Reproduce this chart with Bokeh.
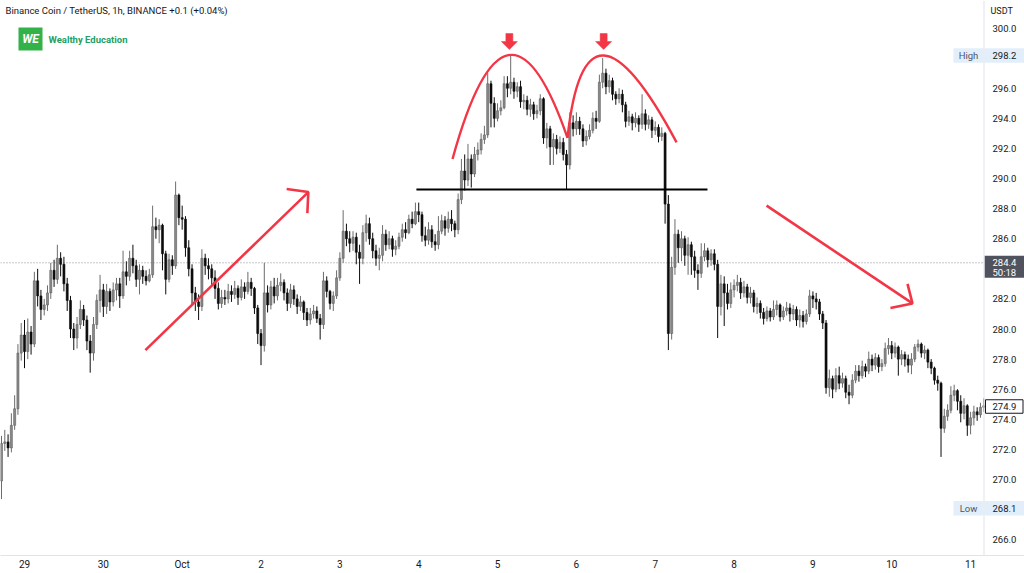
from bokeh.plotting import figure
from bokeh.models import Label, Span, FixedTicker, Range1d
from bokeh.embed import file_html
from bokeh.resources import INLINE
from bokeh.core.properties import value

# ---------------- data (1h candles, hour 0 = Sep 29 00:00) ----------------
first_open = 269.9
close_sep28 = [272.4, 272.5, 272.1, 273.6, 274.7, 278.4, 279.6]
high_sep28 = [272.9, 273.3, 273.0, 274.4, 275.6, 279.0, 280.4]
low_sep28 = [268.7, 271.9, 271.5, 271.8, 273.3, 274.3, 277.9]

close_sep29 = [278.5, 279.8, 279.0, 283.2, 282.2, 281.3, 281.6, 282.4, 283.9, 283.3, 284.7, 284.3,
               283.0, 281.9, 280.0, 279.4, 280.3, 281.3, 280.6, 279.2, 278.4, 280.3, 281.9, 282.6]
high_sep29 = [280.6, 280.7, 280.2, 283.8, 284.0, 282.6, 282.0, 282.9, 284.4, 284.6, 285.6, 285.1,
              284.8, 283.4, 282.2, 280.4, 280.8, 281.9, 281.6, 280.9, 279.6, 280.8, 282.3, 283.6]
low_sep29 = [277.4, 278.0, 278.3, 278.8, 281.5, 280.6, 280.9, 281.2, 282.0, 282.8, 283.0, 283.5,
             282.5, 281.2, 279.4, 278.6, 278.7, 280.0, 280.2, 278.6, 277.1, 277.9, 280.0, 281.1]

close_sep30 = [281.5, 282.5, 281.8, 282.6, 283.0, 282.2, 283.8, 283.5, 284.7, 284.2, 283.3, 283.9,
               283.5, 283.2, 283.6, 286.8, 286.6, 286.9, 285.0, 283.3, 284.6, 284.2, 288.9, 287.4]
high_sep30 = [283.0, 283.0, 282.7, 283.1, 283.4, 283.4, 285.2, 284.5, 285.2, 285.6, 284.6, 284.3,
              284.2, 283.9, 284.0, 288.2, 287.4, 287.3, 287.0, 285.2, 285.0, 284.9, 289.8, 289.0]
low_sep30 = [280.8, 281.0, 281.2, 281.5, 281.9, 281.4, 282.0, 282.9, 283.2, 283.7, 282.8, 282.3,
             283.0, 282.9, 283.1, 283.4, 286.0, 285.7, 283.9, 282.3, 283.1, 283.6, 284.0, 286.9]

close_oct1 = [287.3, 285.4, 284.0, 282.4, 281.8, 281.5, 284.7, 284.2, 284.0, 283.4, 282.7, 281.7,
              282.1, 282.0, 282.5, 282.3, 282.7, 282.1, 282.8, 282.5, 283.1, 282.7, 281.4, 279.7]
high_oct1 = [288.2, 287.5, 285.9, 284.3, 282.8, 282.3, 285.3, 285.0, 284.7, 284.3, 283.9, 283.1,
             282.6, 282.6, 283.0, 282.9, 283.2, 282.9, 283.3, 283.1, 283.8, 283.4, 282.8, 281.6]
low_oct1 = [286.6, 284.8, 283.5, 281.6, 281.2, 280.6, 281.2, 283.6, 283.3, 282.9, 282.0, 281.3,
            281.4, 281.6, 281.7, 281.8, 282.0, 281.6, 281.9, 282.0, 282.3, 282.2, 281.0, 279.0]

close_oct2 = [278.9, 282.4, 281.6, 282.8, 282.2, 282.9, 283.1, 282.4, 281.7, 282.6, 282.0, 281.5,
              281.8, 281.1, 280.6, 281.0, 281.2, 280.7, 280.3, 283.2, 282.5, 281.7, 282.2, 283.4]
high_oct2 = [280.0, 284.4, 282.9, 283.2, 283.4, 283.4, 283.7, 283.3, 282.7, 283.0, 282.9, 282.3,
             282.2, 281.9, 281.4, 281.4, 281.6, 281.5, 281.0, 283.8, 283.5, 282.6, 282.5, 283.9]
low_oct2 = [277.6, 278.5, 281.1, 281.3, 281.7, 281.9, 282.5, 281.9, 281.2, 281.4, 281.6, 281.0,
            281.2, 280.6, 280.2, 280.3, 280.7, 280.4, 279.3, 280.0, 282.1, 281.3, 281.2, 282.0]

close_oct3 = [284.7, 286.5, 286.0, 285.7, 286.1, 285.1, 284.7, 286.4, 287.0, 286.0, 285.2, 284.7,
              284.9, 286.3, 285.6, 286.0, 285.3, 285.5, 286.1, 286.6, 286.4, 287.3, 287.0, 287.8]
high_oct3 = [285.1, 287.9, 287.0, 286.5, 286.5, 286.4, 285.6, 286.9, 287.6, 287.4, 286.4, 285.6,
             285.4, 286.9, 286.6, 286.5, 286.2, 285.9, 286.4, 287.0, 287.1, 287.6, 287.8, 288.4]
low_oct3 = [283.2, 284.4, 285.5, 285.1, 285.2, 284.3, 283.0, 284.3, 285.8, 285.6, 284.7, 284.2,
            283.9, 284.5, 285.2, 285.3, 284.8, 284.9, 285.3, 285.8, 286.0, 286.3, 286.7, 286.9]

close_oct4 = [287.6, 286.2, 285.9, 286.6, 285.8, 285.6, 286.5, 287.2, 286.7, 287.3, 287.0, 286.6,
              288.6, 290.5, 289.9, 291.3, 290.3, 291.6, 291.9, 292.6, 292.9, 296.3, 295.0, 294.0]
high_oct4 = [288.4, 287.8, 286.8, 287.1, 286.9, 286.3, 287.5, 287.6, 287.5, 287.8, 287.9, 287.2,
             289.0, 291.3, 291.6, 292.3, 291.6, 292.1, 292.4, 293.0, 293.5, 297.0, 296.5, 295.4]
low_oct4 = [287.1, 285.8, 285.5, 285.6, 285.4, 285.2, 285.3, 286.3, 286.2, 286.4, 286.5, 286.1,
            286.3, 288.3, 289.2, 289.5, 289.4, 290.1, 291.2, 291.6, 292.3, 292.7, 293.4, 293.4]

close_oct5 = [294.5, 294.7, 296.3, 296.0, 296.4, 295.8, 296.1, 295.1, 295.2, 294.6, 294.9, 294.3,
              294.5, 295.3, 292.7, 293.3, 292.1, 292.6, 292.0, 292.4, 291.6, 290.9, 293.7, 293.3]
high_oct5 = [295.0, 295.2, 296.8, 296.8, 298.2, 296.7, 296.4, 296.5, 295.6, 295.5, 295.3, 295.1,
             294.9, 295.6, 295.4, 293.7, 293.5, 293.0, 292.9, 292.8, 292.7, 291.9, 294.4, 294.2]
low_oct5 = [293.8, 294.2, 294.6, 295.4, 295.6, 295.3, 295.4, 294.7, 294.6, 294.2, 294.1, 293.9,
            294.0, 294.2, 292.3, 292.0, 290.9, 290.9, 291.6, 291.7, 291.2, 289.3, 290.6, 292.8]

close_oct6 = [293.8, 293.3, 292.5, 292.8, 293.2, 294.0, 293.8, 296.4, 297.0, 296.1, 296.5, 295.6,
              295.3, 295.6, 294.9, 293.8, 294.1, 293.7, 294.0, 293.6, 294.3, 293.6, 293.9, 293.2]
high_oct6 = [294.4, 294.1, 293.6, 293.2, 293.6, 294.4, 294.5, 296.9, 298.0, 297.3, 296.9, 296.7,
             295.8, 296.0, 295.9, 295.1, 294.5, 294.3, 294.4, 294.2, 295.6, 294.6, 294.2, 294.1]
low_oct6 = [292.9, 292.9, 292.1, 292.2, 292.6, 293.0, 293.3, 293.7, 296.0, 295.6, 295.7, 295.2,
            294.9, 295.0, 294.4, 293.4, 293.5, 293.2, 293.4, 293.1, 293.3, 293.2, 293.3, 292.7]

close_oct7 = [293.4, 292.8, 293.0, 288.3, 279.7, 284.1, 286.3, 285.4, 286.0, 284.9, 285.6, 284.8,
              283.9, 283.7, 284.8, 285.2, 284.6, 285.0, 284.3, 281.5, 283.0, 282.4, 281.7, 282.6]
high_oct7 = [293.8, 293.6, 293.4, 293.1, 288.9, 284.8, 287.3, 286.6, 286.5, 286.2, 286.1, 285.8,
             285.2, 284.3, 285.7, 285.7, 285.4, 285.3, 285.3, 284.6, 283.6, 283.5, 283.0, 283.1]
low_oct7 = [292.9, 292.4, 292.5, 287.0, 278.6, 279.3, 283.6, 284.4, 284.5, 284.2, 283.6, 283.6,
            283.4, 282.6, 283.4, 284.5, 284.1, 284.2, 283.9, 279.4, 280.9, 280.2, 281.3, 281.4]

close_oct8 = [282.9, 283.1, 282.4, 282.8, 282.1, 282.4, 281.5, 281.7, 281.1, 280.7, 281.2, 280.8,
              281.3, 281.6, 280.8, 281.2, 281.4, 281.0, 281.3, 280.6, 280.9, 280.5, 281.0, 282.2]
high_oct8 = [283.3, 283.6, 283.4, 283.2, 283.0, 282.8, 282.6, 282.1, 281.9, 281.4, 281.5, 281.4,
             281.9, 281.9, 281.7, 281.5, 281.8, 281.7, 281.6, 281.5, 281.3, 281.2, 281.3, 282.6]
low_oct8 = [282.1, 282.5, 282.0, 282.1, 281.7, 281.7, 281.1, 281.0, 280.7, 280.3, 280.5, 280.5,
            280.6, 280.9, 280.5, 280.6, 280.9, 280.5, 280.6, 280.2, 280.1, 280.1, 280.3, 280.8]

close_oct9 = [282.0, 281.8, 281.0, 280.4, 276.1, 276.7, 276.0, 276.9, 276.4, 276.7, 275.8, 275.6,
              276.6, 277.2, 276.9, 277.5, 277.2, 278.0, 277.6, 278.1, 277.5, 277.7, 278.7, 278.9]
high_oct9 = [282.5, 282.4, 282.0, 281.2, 280.6, 277.3, 276.9, 277.4, 277.5, 277.1, 276.9, 276.3,
             277.0, 277.6, 277.6, 277.9, 277.7, 278.5, 278.3, 278.4, 278.3, 278.0, 279.1, 279.4]
low_oct9 = [281.4, 281.3, 280.6, 280.0, 275.7, 275.5, 275.4, 275.8, 276.0, 276.1, 275.4, 275.0,
            275.4, 276.4, 276.5, 276.7, 276.8, 277.0, 277.2, 277.3, 277.1, 277.2, 277.5, 278.3]

close_oct10 = [278.4, 278.8, 278.0, 278.3, 278.0, 277.6, 278.0, 278.8, 279.0, 278.4, 278.6, 277.8,
               277.4, 276.6, 276.4, 273.4, 274.2, 274.6, 275.6, 275.9, 275.2, 274.4, 274.9, 273.6]
high_oct10 = [279.2, 279.1, 278.9, 278.6, 278.5, 278.3, 278.4, 279.0, 279.3, 279.1, 278.9, 278.7,
              278.0, 277.5, 276.9, 276.5, 274.7, 275.0, 276.2, 276.3, 276.0, 275.6, 275.4, 275.0]
low_oct10 = [278.0, 278.1, 276.9, 277.6, 277.5, 277.1, 277.0, 277.8, 278.5, 278.1, 278.0, 277.4,
             277.0, 276.3, 275.9, 271.5, 273.1, 273.9, 274.4, 275.2, 274.6, 273.8, 274.0, 272.9]

close_oct11 = [274.1, 274.5, 274.3, 274.8, 274.9]
high_oct11 = [274.5, 274.9, 274.8, 275.1, 275.4]
low_oct11 = [273.0, 273.6, 273.9, 274.1, 274.5]

first_hour = -7
day_ticks = [0, 24, 48, 72, 96, 120, 144, 168, 192, 216, 240, 264, 288]
day_labels = ["29", "30", "Oct", "2", "3", "4", "5", "6", "7", "8", "9", "10", "11"]
# price scale labels that are visible (298, 284 and 268 sit under the marker boxes)
price_ticks = [266.0, 270.0, 272.0, 274.0, 276.0, 278.0, 280.0, 282.0,
               286.0, 288.0, 290.0, 292.0, 294.0, 296.0, 300.0]

title_text = "Binance Coin / TetherUS, 1h, BINANCE  +0.1 (+0.04%)"
brand_text = "Wealthy Education"
currency_text = "USDT"
day_high = 298.2
day_low = 268.1
ref_price = 284.4
ref_timer = "50:18"
last_price = 274.9

# drawn annotations (hour, price)
up_arrow_x = [36.8, 86.4]
up_arrow_y = [278.6, 289.1]
up_head_x = [79.8, 86.4, 86.1]
up_head_y = [289.3, 289.1, 287.7]
down_arrow_x = [225.9, 270.3]
down_arrow_y = [288.2, 281.7]
down_head_x = [268.8, 270.3, 263.6]
down_head_y = [283.0, 281.7, 281.4]
neck_x = [119.3, 207.9]
neck_y = [289.27, 289.27]
arc_start_x = [130.3, 165.3]
arc_start_y = [291.3, 292.7]
arc_end_x = [165.3, 198.5]
arc_end_y = [292.7, 292.4]
arc_ctrl_x = [146.8, 170.7]
arc_ctrl_y = [304.4, 303.8]
top_marker_x = [147.6, 176.3]
top_marker_y = [298.57, 298.57]

# ---------------- assemble ----------------
closes = (close_sep28 + close_sep29 + close_sep30 + close_oct1 + close_oct2 + close_oct3 + close_oct4
          + close_oct5 + close_oct6 + close_oct7 + close_oct8 + close_oct9 + close_oct10 + close_oct11)
highs = (high_sep28 + high_sep29 + high_sep30 + high_oct1 + high_oct2 + high_oct3 + high_oct4
         + high_oct5 + high_oct6 + high_oct7 + high_oct8 + high_oct9 + high_oct10 + high_oct11)
lows = (low_sep28 + low_sep29 + low_sep30 + low_oct1 + low_oct2 + low_oct3 + low_oct4
        + low_oct5 + low_oct6 + low_oct7 + low_oct8 + low_oct9 + low_oct10 + low_oct11)
opens = [first_open] + closes[:-1]
hours = list(range(first_hour, first_hour + len(closes)))
highs = [max(h, o, c) for h, o, c in zip(highs, opens, closes)]
lows = [min(l, o, c) for l, o, c in zip(lows, opens, closes)]

up = [c >= o for o, c in zip(opens, closes)]
tops = [max(o, c) for o, c in zip(opens, closes)]
bots = [min(o, c) for o, c in zip(opens, closes)]
body_fill = ["#8a8a8a" if u else "#0c0c0c" for u in up]
body_line = ["#5e5e5e" if u else "#0c0c0c" for u in up]
wick_col = ["#6c6c6c" if u else "#0c0c0c" for u in up]

# ---------------- figure ----------------
W, H = 1024, 573
BB = 18
FH = H - BB
X0, X1 = -7.306, 304.41
Y0, Y1 = 264.95, 301.83


def hx(px):  # horizontal pixel -> hour (layout helper)
    return X0 + px * (X1 - X0) / W


def vy(px):  # vertical pixel from top -> price (layout helper)
    return Y1 - px * (Y1 - Y0) / FH


def ph(px):  # pixel height -> price units
    return px * (Y1 - Y0) / FH


SEP = hx(983.5)

p = figure(width=W, height=H, x_range=Range1d(X0, X1), y_range=Range1d(Y0, Y1),
           y_axis_location=None, output_backend="svg", toolbar_location=None,
           min_border_left=0, min_border_top=0, min_border_right=0, min_border_bottom=BB,
           background_fill_color="white", border_fill_color="white", outline_line_color=None)
p.xgrid.visible = False
p.ygrid.visible = False

FONT = "Roboto"
TXT = "#131722"

xa = p.xaxis[0]
xa.ticker = FixedTicker(ticks=day_ticks)
xa.major_label_overrides = {t: l for t, l in zip(day_ticks, day_labels)}
xa.axis_line_color = "#e0e3eb"
xa.major_tick_line_color = None
xa.minor_tick_line_color = None
xa.major_tick_out = 0
xa.major_tick_in = 0
xa.major_label_standoff = 3
xa.major_label_text_font = FONT
xa.major_label_text_font_size = "10px"
xa.major_label_text_color = TXT

# price-scale separator
p.add_layout(Span(location=SEP, dimension="height", line_color="#e0e3eb", line_width=1))

# dotted price line (behind candles)
p.line([X0, SEP], [ref_price, ref_price], line_color="#8a8d96", line_dash="1 2", line_width=1)

# candles
p.segment(x0=hours, y0=lows, x1=hours, y1=highs, line_color=wick_col, line_width=1)
p.vbar(x=hours, top=tops, bottom=bots, width=0.62, fill_color=body_fill,
       line_color=body_line, line_width=0.6)

RED = "#f23645"
p.line(neck_x, neck_y, line_color="#000000", line_width=2)
p.line(up_arrow_x, up_arrow_y, line_color=RED, line_width=2.6)
p.line(up_head_x, up_head_y, line_color=RED, line_width=2.6)
p.line(down_arrow_x, down_arrow_y, line_color=RED, line_width=2.6)
p.line(down_head_x, down_head_y, line_color=RED, line_width=2.6)
p.quadratic(x0=arc_start_x, y0=arc_start_y, x1=arc_end_x, y1=arc_end_y,
            cx=arc_ctrl_x, cy=arc_ctrl_y, line_color=RED, line_width=2.4)
kx = (X1 - X0) / W
shape = [(-3.5, 16), (3.5, 16), (3.5, 8), (8, 8), (0, 0), (-8, 8), (-3.5, 8)]
mxs = [[tx + dx * kx for dx, dy in shape] for tx in top_marker_x]
mys = [[ty + ph(dy) for dx, dy in shape] for ty in top_marker_y]
p.patches(mxs, mys, fill_color=RED, line_color=RED, line_width=0.5)

# price scale labels
p.text(x=[hx(992)] * len(price_ticks), y=price_ticks, text=["%.1f" % t for t in price_ticks],
       text_font=value(FONT), text_font_size="9.5px", text_color=TXT,
       text_align="left", text_baseline="middle")
p.text(x=[hx(990)], y=[vy(10)], text=[currency_text], text_font=value(FONT),
       text_font_size="9px", text_color=TXT, text_align="left", text_baseline="middle")

# High / Low markers
HL_BG = "#e3eefb"
for name, val in (("High", day_high), ("Low", day_low)):
    p.quad(left=[hx(953)], right=[hx(983)], top=[val + ph(7)], bottom=[val - ph(7.5)],
           fill_color=HL_BG, line_color=None)
    p.quad(left=[hx(984)], right=[X1], top=[val + ph(7)], bottom=[val - ph(7.5)],
           fill_color=HL_BG, line_color=None)
    p.text(x=[hx(968)], y=[val], text=[name], text_font=value(FONT), text_font_size="9.5px",
           text_color="#50535e", text_align="center", text_baseline="middle")
    p.text(x=[hx(992)], y=[val], text=["%.1f" % val], text_font=value(FONT),
           text_font_size="9.5px", text_color=TXT, text_align="left", text_baseline="middle")

# reference price box with countdown
p.quad(left=[hx(984)], right=[X1], top=[ref_price + ph(7)], bottom=[ref_price - ph(15)],
       fill_color="#50535e", line_color=None)
p.text(x=[hx(992), hx(992)], y=[ref_price, ref_price - ph(10)],
       text=["%.1f" % ref_price, ref_timer], text_font=value(FONT), text_font_size="9.5px",
       text_color="white", text_align="left", text_baseline="middle")

# last price box
p.quad(left=[hx(985)], right=[hx(1022.5)], top=[last_price + ph(6)], bottom=[last_price - ph(7.5)],
       fill_color="white", line_color=TXT, line_width=1)
p.text(x=[hx(992)], y=[last_price - ph(0.8)], text=["%.1f" % last_price], text_font=value(FONT),
       text_font_size="9.5px", text_color=TXT, text_align="left", text_baseline="middle")

# title & brand
p.add_layout(Label(x=5, y=FH - 10, x_units="screen", y_units="screen", text=title_text,
                   text_font=FONT, text_font_size="9.5px", text_color=TXT,
                   text_baseline="middle", text_align="left"))
p.quad(left=[hx(18)], right=[hx(42)], top=[vy(27)], bottom=[vy(50)],
       fill_color="#33b249", line_color=None)
p.text(x=[hx(30)], y=[vy(38.5)], text=["WE"], text_font=value(FONT), text_font_size="12px",
       text_font_style="bold italic", text_color="white", text_align="center",
       text_baseline="middle")
p.add_layout(Label(x=48, y=FH - 38.5, x_units="screen", y_units="screen", text=brand_text,
                   text_font=FONT, text_font_size="9.5px", text_font_style="bold",
                   text_color="#249e63", text_align="left", text_baseline="middle"))

open("out.html", "w").write(file_html(p, INLINE))
